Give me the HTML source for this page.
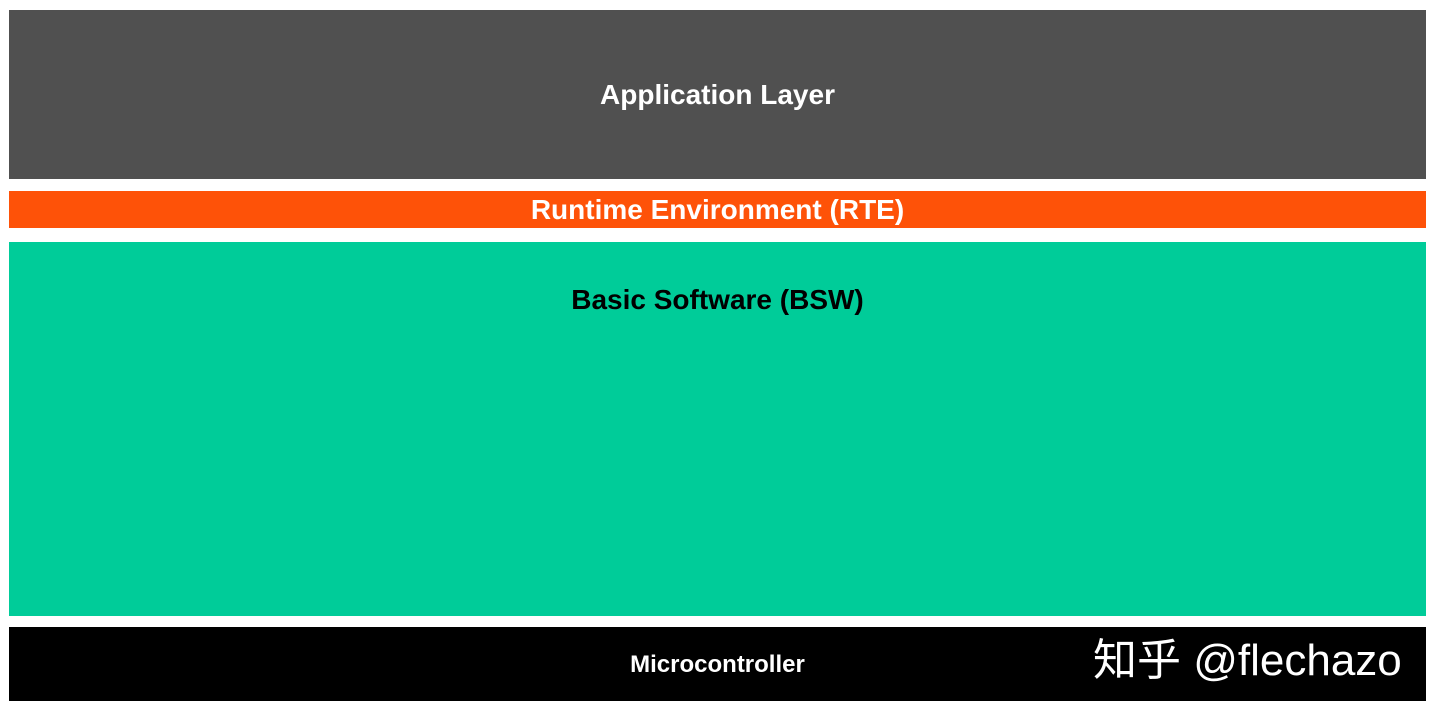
<!DOCTYPE html>
<html><head><style>
body{margin:0;width:1440px;height:711px;background:#fff;position:relative;overflow:hidden;font-family:"Liberation Sans",sans-serif;font-weight:bold}
.b{position:absolute;left:9px;width:1417px;text-align:center}
</style></head><body>
<div class="b" style="top:10px;height:169px;background:#505050;color:#fff;font-size:28px;line-height:169px">Application Layer</div>
<div class="b" style="top:191px;height:37px;background:#fe5208;color:#fff;font-size:28px;line-height:38px">Runtime Environment (RTE)</div>
<div class="b" style="top:242px;height:374px;background:#00cc99;color:#000;font-size:28px"><div style="margin-top:42px">Basic Software (BSW)</div></div>
<div class="b" style="top:627px;height:74px;background:#000;color:#fff;font-size:24px;line-height:76px">Microcontroller</div>
<div style="position:absolute;left:1093px;top:624px;color:#fff;font-weight:normal;font-size:44px;font-family:'Liberation Sans','Noto Sans CJK SC',sans-serif;white-space:nowrap">知乎 @flechazo</div>
</body></html>
